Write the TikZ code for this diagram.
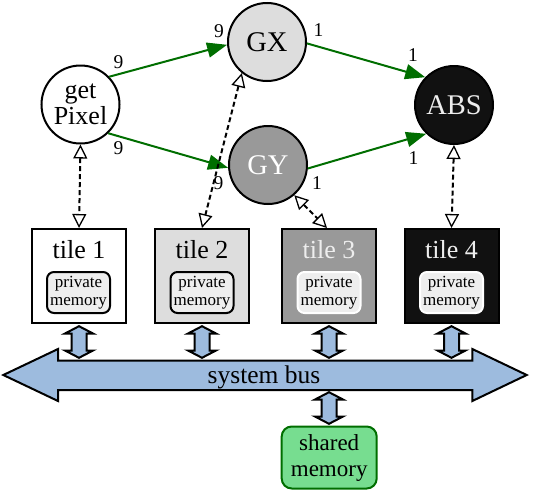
\documentclass[tikz,border=0pt]{standalone}
\usepackage{fontspec}
\setmainfont{Liberation Serif}
\usetikzlibrary{arrows.meta}

\definecolor{flowgreen}{RGB}{0,110,0}
\definecolor{busblue}{RGB}{157,187,222}
\definecolor{lightfill}{RGB}{221,221,221}
\definecolor{midfill}{RGB}{153,153,153}
\definecolor{darkfill}{RGB}{17,17,17}
\definecolor{memfill}{RGB}{238,238,238}
\definecolor{paletext}{RGB}{238,238,238}
\definecolor{sharedgreen}{RGB}{119,221,144}

\tikzset{
  taskcircle/.style={circle, draw, line width=2pt, minimum size=78pt, inner sep=0pt,
    align=center, font=\fontsize{28.5}{30}\selectfont},
  tilebox/.style={rectangle, draw, line width=2pt, minimum width=94pt, minimum height=94pt},
  tilename/.style={inner sep=0pt, font=\fontsize{26}{28}\selectfont},
  privmem/.style={rectangle, rounded corners=7pt, draw, line width=2pt, fill=memfill,
    minimum width=63pt, minimum height=41pt, inner sep=0pt, align=center,
    font=\fontsize{17}{18}\selectfont},
  ratelabel/.style={inner sep=0pt, font=\fontsize{19.5}{21}\selectfont},
  dataflow/.style={draw=flowgreen, line width=2pt, -{Triangle[length=20pt, width=15pt]}},
  mapto/.style={line width=2pt, dash pattern=on 5pt off 3pt,
    {Triangle[open, length=14pt, width=14pt, line width=1.3pt]}-{Triangle[open, length=14pt, width=14pt, line width=1.3pt]}},
  busline/.style={draw, line width=2pt, fill=busblue, line join=miter},
  fatarrow/.pic={
    \draw[busline] (0,-15.8) -- (14,-8.5) -- (7.5,-8.5) -- (7.5,8.5) -- (14,8.5) -- (0,15.8)
      -- (-14,8.5) -- (-7.5,8.5) -- (-7.5,-8.5) -- (-14,-8.5) -- cycle;
  }
}

\begin{document}
\begin{tikzpicture}[x=1pt, y=-1pt]
    \useasboundingbox (0,0) rectangle (540,498);

    % Task graph
    \node[taskcircle, fill=white, font=\fontsize{26}{26}\selectfont] (gp) at (80.5,104.5) {get\\Pixel};
    \node[taskcircle, fill=lightfill] (gx) at (267,42) {GX};
    \node[taskcircle, fill=midfill, text=white] (gy) at (268,165) {GY};
    \node[taskcircle, fill=darkfill, text=paletext] (ab) at (454,105) {ABS};

    % Channels with rates
    \draw[dataflow] (gp.44) -- (gx.184);
    \draw[dataflow] (gp.314) -- (gy.184);
    \draw[dataflow] (gx.358) -- (ab.136);
    \draw[dataflow] (gy.355) -- (ab.226);
    \node[ratelabel] (r1) at (118.5,62) {9};
    \node[ratelabel] (r2) at (219,31) {9};
    \node[ratelabel] (r3) at (318.5,30) {1};
    \node[ratelabel] (r4) at (413,55) {1};
    \node[ratelabel] (r5) at (118.5,148.5) {9};
    \node[ratelabel] (r6) at (218.5,183.5) {9};
    \node[ratelabel] (r7) at (317,183.5) {1};
    \node[ratelabel] (r8) at (413.5,158.5) {1};

    % Tiles
    \node[tilebox, fill=white] (t1) at (79,276) {};
    \node[tilebox, fill=lightfill] (t2) at (202,276) {};
    \node[tilebox, fill=midfill] (t3) at (329,276) {};
    \node[tilebox, fill=darkfill] (t4) at (451.5,276) {};
    \node[tilename] (n1) at (79,250) {tile 1};
    \node[tilename] (n2) at (202,250) {tile 2};
    \node[tilename, text=paletext] (n3) at (329,250) {tile 3};
    \node[tilename, text=paletext] (n4) at (451.5,250) {tile 4};
    \node[privmem] (m1) at (78.5,292.5) {private\\memory};
    \node[privmem] (m2) at (202,292.5) {private\\memory};
    \node[privmem, draw=white] (m3) at (329,292.5) {private\\memory};
    \node[privmem, draw=white] (m4) at (451.5,292.5) {private\\memory};

    % Mapping of tasks onto tiles
    \draw[mapto] (gp.south) -- (t1.north);
    \draw[mapto] (gx.231) -- (t2.north);
    \draw[mapto] (gy.311) -- ([xshift=-2pt]t3.north);
    \draw[mapto] (ab.south) -- (t4.north);

    % System bus
    \draw[busline] (3.3,375) -- (58,349) -- (58,360.7) -- (472.3,360.7) -- (472.3,349)
      -- (526.7,375) -- (472.3,401) -- (472.3,390) -- (58,390) -- (58,401) -- cycle;
    \node[anchor=base, inner sep=0pt, font=\fontsize{25.5}{27}\selectfont] (bus) at (264,383.3) {system bus};

    % Bus ports
    \pic at (79,342) {fatarrow};
    \pic at (202,342) {fatarrow};
    \pic at (329,342) {fatarrow};
    \pic at (451.5,342) {fatarrow};
    \pic at (329,408) {fatarrow};

    % Shared memory
    \node[rectangle, rounded corners=10pt, draw=flowgreen, line width=2pt, fill=sharedgreen,
      minimum width=95pt, minimum height=62pt, inner sep=0pt, align=center,
      font=\fontsize{23}{26}\selectfont] (sm) at (329.2,457.5) {shared\\memory};
\end{tikzpicture}
\end{document}
